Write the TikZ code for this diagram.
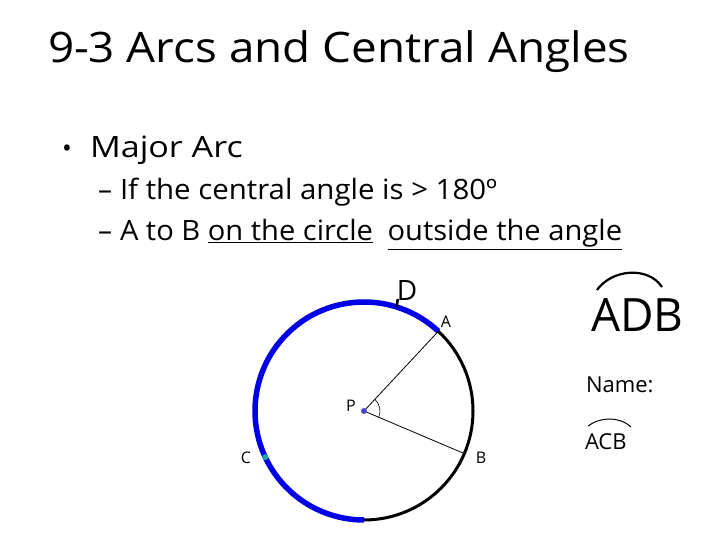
\documentclass[tikz,border=0pt]{standalone}
\usepackage{fontspec}
\setmainfont{Open Sans}
\usetikzlibrary{calc}
\definecolor{arcblue}{RGB}{0,0,230}
\definecolor{dotblue}{RGB}{70,70,200}
\definecolor{dotteal}{RGB}{30,170,150}
\newcommand{\uline}[1]{\underline{#1}}
\tikzset{
  every node/.style={inner sep=0pt, outer sep=0pt},
  ptlabel/.style={font=\fontsize{16}{18}\selectfont},
  subtext/.style={anchor=base west, font=\fontsize{28}{32}\selectfont},
  thinline/.style={line width=0.8pt, black},
}
\begin{document}
\begin{tikzpicture}[x=1pt,y=1pt]
\useasboundingbox (0,0) rectangle (728,546);
\fill[white] (0,0) rectangle (728,546);
% title and bullets
\node[anchor=base west, font=\fontsize{42}{48}\selectfont] (title) at (48,483) {\scalebox{1.09}[1]{9-3 Arcs and Central Angles}};
\node[font=\fontsize{26}{30}\selectfont] (bul) at (67,395) {\textbullet};
\node[anchor=base west, font=\fontsize{29.4}{34}\selectfont] (b1) at (90,388) {\scalebox{1.16}[1]{Major Arc}};
\node[subtext] (d2) at (98,346) {–};
\node[subtext] (b2) at (120,346) {\scalebox{1.05}[1]{If the central angle is > 180º}};
\node[subtext] (d3) at (98,305) {–};
\node[subtext] (b3) at (120,305) {\scalebox{1.04}[1]{A to B \uline{on the circle}\hspace{14pt}\uline{outside the angle}}};
% circle
\coordinate (P) at (364,135);
\def\R{109}
\draw[line width=3pt, black] (P) ++(270:\R) arc[start angle=270, end angle=407, radius=\R];
\draw[line width=5.5pt, arcblue] (P) ++(47:\R) arc[start angle=47, end angle=270, radius=\R];
\coordinate (A) at ($(P)+(47:\R)$);
\coordinate (B) at ($(P)+(-23:\R)$);
\coordinate (C) at ($(P)+(205:\R)$);
\coordinate (Dp) at ($(P)+(72.6:\R)$);
\draw[thinline] (P) -- (A);
\draw[thinline] (P) -- (B);
\draw[line width=0.6pt] (P) ++(-23:16) arc[start angle=-23, end angle=47, radius=16];
\fill[dotblue] (P) circle (3pt);
\fill[dotteal] (C) circle (3pt);
% labels
\node[ptlabel] (lA) at (446,224) {A};
\node[ptlabel] (lP) at (351,140) {P};
\node[ptlabel] (lB) at (481,88) {B};
\node[ptlabel] (lC) at (246,88) {C};
\node[font=\fontsize{28}{32}\selectfont] (lD) at (407,255) {D};
\draw[line width=2.5pt] (lD.south west) ++(1,2) -- (Dp);
% right side
\node[anchor=base west, font=\fontsize{46}{52}\selectfont] (adb) at (591,214) {ADB};
\draw[line width=2.2pt] (597,256) .. controls (612,277) and (648,280) .. (662,259);
\node[anchor=base west, font=\fontsize{22}{26}\selectfont] (name) at (586,153) {Name:};
\node[anchor=base west, font=\fontsize{22}{26}\selectfont] (acb) at (585,96) {ACB};
\draw[line width=1pt] (588,120) .. controls (600,129) and (619,130) .. (631,119);
\end{tikzpicture}
\end{document}
